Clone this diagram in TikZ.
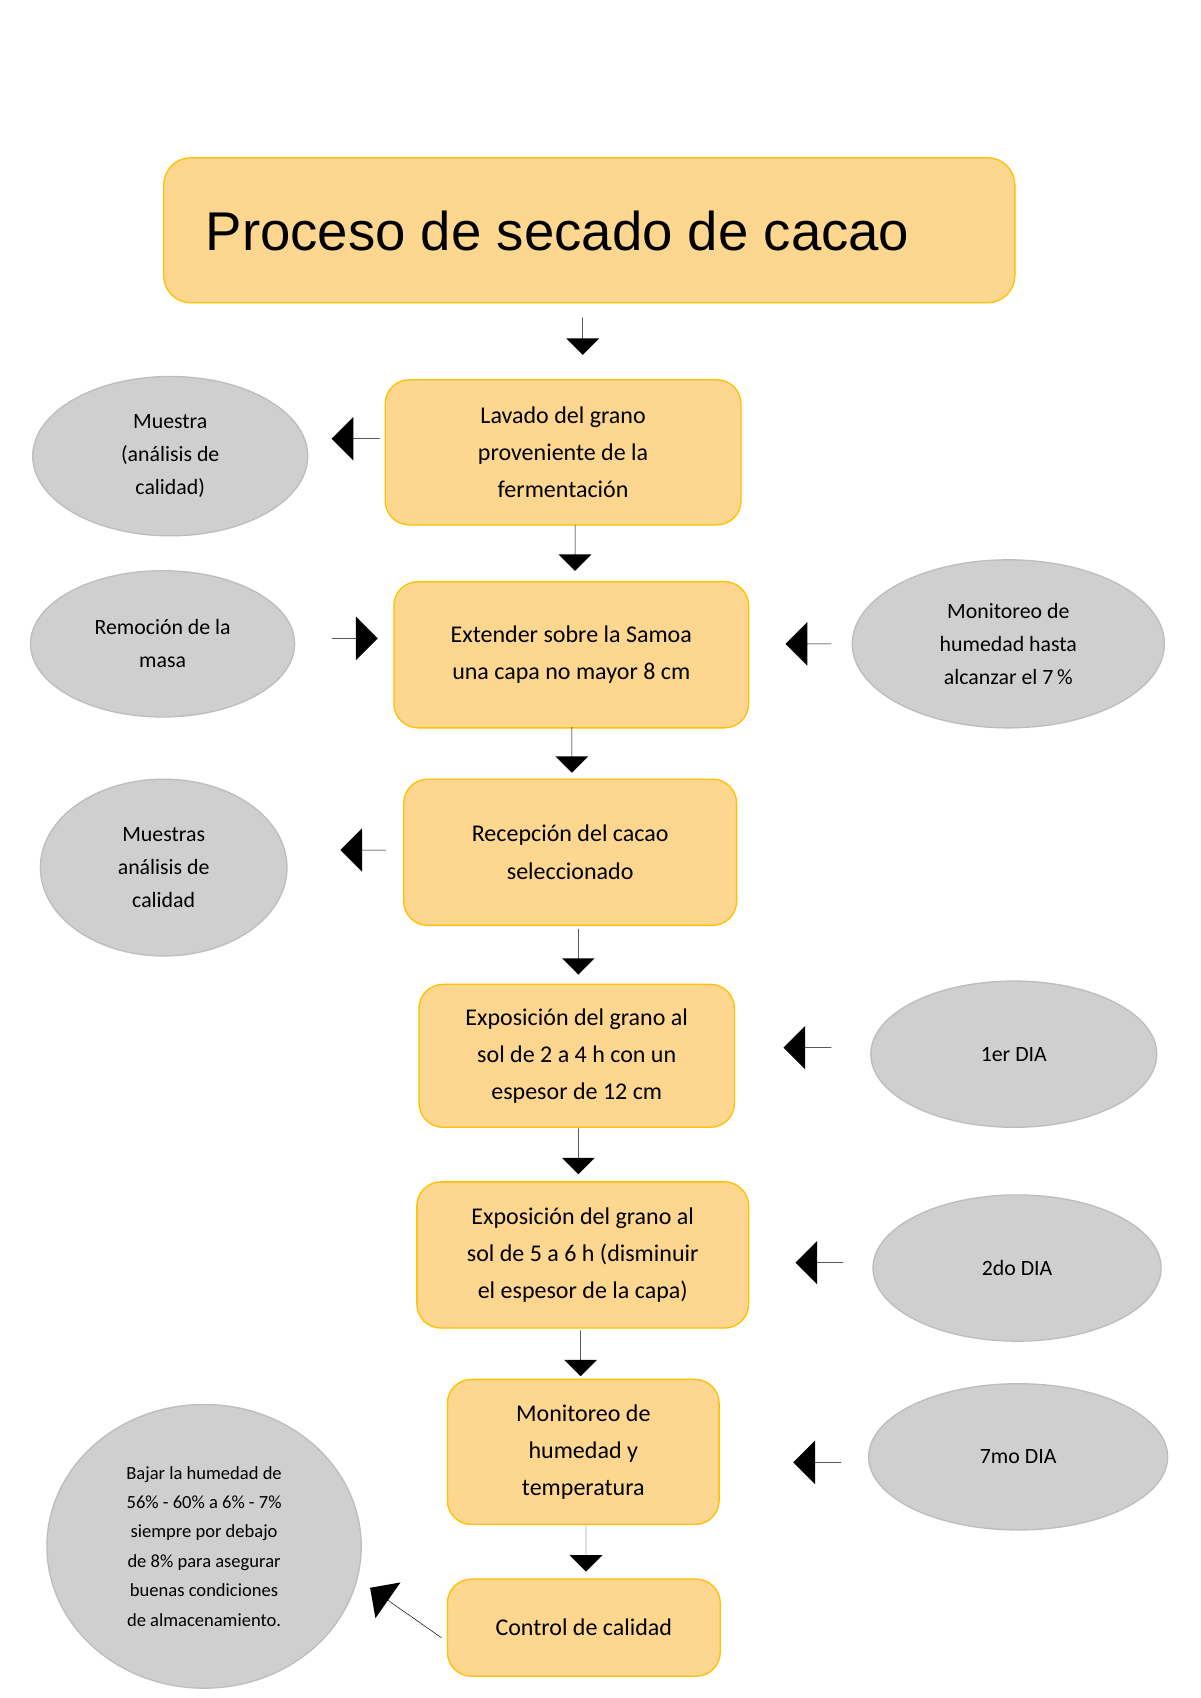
\documentclass[tikz,border=0pt]{standalone}
\usepackage{fontspec}
\setmainfont{Carlito}
\newfontfamily\titlefont{Liberation Sans}
\usetikzlibrary{shapes.arrows,shapes.geometric}
\definecolor{boxfill}{HTML}{FDD690}
\definecolor{boxdraw}{HTML}{FFC000}
\definecolor{ellfill}{HTML}{CFCFCF}
\definecolor{elldraw}{HTML}{BDBDBD}
\tikzset{
 box/.style={draw=boxdraw,line width=1.2pt,fill=boxfill,rounded corners=22pt,align=center,font=\fontsize{22}{34}\selectfont},
 ell/.style={ellipse,draw=elldraw,line width=1.2pt,fill=ellfill,align=center,inner sep=0pt,font=\fontsize{20}{30}\selectfont},
 barrow/.style={single arrow,fill=black,draw=none,single arrow head extend=14pt,minimum width=30pt,inner sep=0pt},
}
\newcommand{\bx}[6]{\node[box,minimum width=#3pt-#1pt,minimum height=#4pt-#2pt] (#5) at ({(#1+#3)/2},{(#2+#4)/2}) {#6};}
\begin{document}
\begin{tikzpicture}[x=1pt,y=-1pt]
\useasboundingbox[fill=white] (0,0) rectangle (1100,1556);
\node[draw=boxdraw,line width=1.2pt,fill=boxfill,rounded corners=25pt,minimum width=780pt,minimum height=133pt] (title) at (540,211) {};
\node[anchor=west,font=\titlefont\fontsize{50}{55}\selectfont] (tt) at (185,212) {Proceso de secado de cacao};
\bx{353}{348}{679}{481}{b1}{Lavado del grano\\proveniente de la\\fermentación}
\bx{361}{533}{686}{667}{b2}{Extender sobre la Samoa\\una capa no mayor 8 cm}
\bx{370}{714}{675}{848}{b3}{Recepción del cacao\\seleccionado}
\bx{384}{902}{673}{1033}{b4}{Exposición del grano al\\sol de 2 a 4 h con un\\espesor de 12 cm}
\bx{382}{1083}{686}{1217}{b5}{Exposición del grano al\\sol de 5 a 6 h (disminuir\\el espesor de la capa)}
\bx{410}{1264}{659}{1397}{b6}{Monitoreo de\\humedad y\\temperatura}
\bx{410}{1447}{660}{1536}{b7}{Control de calidad}
\node[ell,minimum width=252pt,minimum height=146pt] (e1) at (156,418) {Muestra\\(análisis de\\calidad)};
\node[ell,minimum width=242pt,minimum height=134pt] (e2) at (149,590) {Remoción de la\\masa};
\node[ell,minimum width=226pt,minimum height=162pt] (e3) at (150,795) {Muestras\\análisis de\\calidad};
\node[ell,minimum width=286pt,minimum height=154pt] (e4) at (924,590) {Monitoreo de\\humedad hasta\\alcanzar el 7\,\%};
\node[ell,minimum width=262pt,minimum height=134pt] (e5) at (929,966) {1er DIA};
\node[ell,minimum width=264pt,minimum height=134pt] (e6) at (932,1162) {2do DIA};
\node[ell,minimum width=274pt,minimum height=134pt] (e7) at (933,1335) {7mo DIA};
\node[ell,minimum width=288pt,minimum height=260pt,font=\fontsize{17}{27}\selectfont] (e8) at (187,1417) {Bajar la humedad de\\56\% - 60\% a 6\% - 7\%\\siempre por debajo\\de 8\% para asegurar\\buenas condiciones\\de almacenamiento.};
% down arrows
\node[barrow,rotate=-90,minimum height=34pt,single arrow head extend=13pt] (a0) at (534,308) {};
\node[barrow,rotate=-90,minimum height=42pt,single arrow head extend=14pt] (a1) at (527,502) {};
\node[barrow,rotate=-90,minimum height=42pt,single arrow head extend=14pt] (a2) at (524,687) {};
\node[barrow,rotate=-90,minimum height=42pt,single arrow head extend=14pt] (a3) at (530,872) {};
\node[barrow,rotate=-90,minimum height=42pt,single arrow head extend=14pt] (a4) at (530,1055) {};
\node[barrow,rotate=-90,minimum height=42pt,single arrow head extend=14pt] (a5) at (532,1240) {};
\node[barrow,rotate=-90,minimum height=42pt,single arrow head extend=14pt] (a6) at (537,1419) {};
% side arrows
\node[barrow,rotate=180,minimum height=44pt,minimum width=40pt,single arrow head extend=18pt] (s1) at (326,402) {};
\node[barrow,minimum height=42pt,minimum width=40pt,single arrow head extend=18pt] (s2) at (325,585) {};
\node[barrow,rotate=180,minimum height=42pt,minimum width=40pt,single arrow head extend=18pt] (s3) at (741,590) {};
\node[barrow,rotate=180,minimum height=42pt,minimum width=40pt,single arrow head extend=18pt] (s4) at (333,779) {};
\node[barrow,rotate=180,minimum height=44pt,minimum width=40pt,single arrow head extend=18pt] (s5) at (740,960) {};
\node[barrow,rotate=180,minimum height=44pt,minimum width=40pt,single arrow head extend=18pt] (s6) at (751,1157) {};
\node[barrow,rotate=180,minimum height=44pt,minimum width=40pt,single arrow head extend=18pt] (s7) at (749,1340) {};
\node[barrow,rotate=145,minimum height=80pt,minimum width=40pt,single arrow head extend=18pt] (s8) at (372,1478) {};
\end{tikzpicture}
\end{document}
